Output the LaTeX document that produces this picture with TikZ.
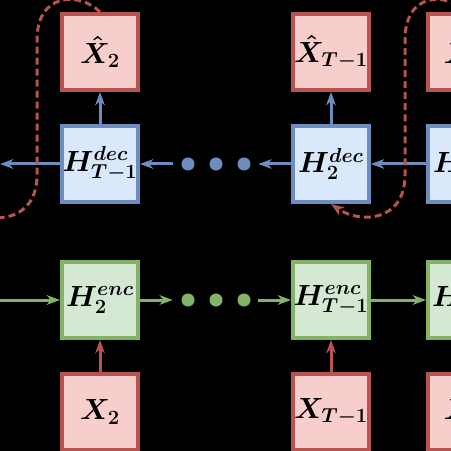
\documentclass[tikz,border=0pt]{standalone}
\usepackage{bm}
\usetikzlibrary{arrows.meta}
\definecolor{redfill}{HTML}{F8CECC}
\definecolor{reddraw}{HTML}{B85450}
\definecolor{bluefill}{HTML}{DAE8FC}
\definecolor{bluedraw}{HTML}{6C8EBF}
\definecolor{greenfill}{HTML}{D5E8D4}
\definecolor{greendraw}{HTML}{82B366}
\tikzset{
  cell/.style={draw, line width=0.1cm, minimum size=1.9cm, inner sep=0pt, font=\huge},
  outbox/.style={cell, draw=reddraw, fill=redfill},
  decbox/.style={cell, draw=bluedraw, fill=bluefill},
  encbox/.style={cell, draw=greendraw, fill=greenfill},
  dotnode/.style={circle, inner sep=0pt, minimum size=0.325cm},
  flow/.style={line width=0.075cm, -{Stealth[length=0.33cm, width=0.24cm, inset=0.1cm]}},
}
\begin{document}
\begin{tikzpicture}[x=0.025cm, y=-0.025cm]
      \fill[black] (0,0) rectangle (451,451);
      \useasboundingbox (0,0) rectangle (451,451);
      \clip (0,0) rectangle (451,451);
      \draw
        (100,52) node[outbox] (xh2){$\bm{\hat{X}_2}$}
        (331,52) node[outbox] (xhT1){$\bm{\hat{X}_{T-1}}$}
        (466,52) node[outbox] (xhT){$\bm{\hat{X}_T}$}
        (100,164) node[decbox] (hdT1){$\bm{H^{dec}_{T-1}}$}
        (331,164) node[decbox] (hd2){$\bm{H^{dec}_2}$}
        (466,164) node[decbox] (hd1){$\bm{H^{dec}_1}$}
        (100,300) node[encbox] (he2){$\bm{H^{enc}_2}$}
        (331,300) node[encbox] (heT1){$\bm{H^{enc}_{T-1}}$}
        (466,300) node[encbox] (heT){$\bm{H^{enc}_T}$}
        (100,412) node[outbox] (x2){$\bm{X_2}$}
        (331,412) node[outbox] (xT1){$\bm{X_{T-1}}$}
        (466,412) node[outbox] (xT){$\bm{X_T}$};
      \draw
        (188,164) node[dotnode, fill=bluedraw] (dd1){}
        (216,164) node[dotnode, fill=bluedraw] (dd2){}
        (244,164) node[dotnode, fill=bluedraw] (dd3){}
        (188,300) node[dotnode, fill=greendraw] (de1){}
        (216,300) node[dotnode, fill=greendraw] (de2){}
        (244,300) node[dotnode, fill=greendraw] (de3){};
      \coordinate (decout) at (0,164);
      \coordinate (encin) at (-10,300);
      \coordinate (prev) at (-32,205);
      % decoder, right to left
      \begin{scope}[flow, bluedraw]
        \draw (hd1) to (hd2);
        \draw[shorten >=0.19cm] (hd2) to (dd3);
        \draw[shorten <=0.21cm] (dd1) to (hdT1);
        \draw (hdT1) to (decout);
        \draw (hdT1) to (xh2);
        \draw (hd2) to (xhT1);
      \end{scope}
      % encoder, left to right
      \begin{scope}[flow, greendraw]
        \draw (encin) to (he2);
        \draw[shorten >=0.21cm] (he2) to (de1);
        \draw[shorten <=0.19cm] (de3) to (heT1);
        \draw (heT1) to (heT);
      \end{scope}
      \begin{scope}[flow, reddraw]
        \draw (x2) to (he2);
        \draw (xT1) to (heT1);
      \end{scope}
      % feedback of the outputs
      \begin{scope}[flow, reddraw, dash pattern=on 0.175cm off 0.1cm]
        \draw (xhT.north) .. controls (446,-8) and (405,-8) .. (405,40)
          -- (405,175) .. controls (405,222) and (360,224) .. (hd2.south);
        \draw (xh2.north) .. controls (80,-8) and (37,-8) .. (37,40)
          -- (37,175) .. controls (37,222) and (-8,224) .. (prev);
      \end{scope}
    \end{tikzpicture}
\end{document}
